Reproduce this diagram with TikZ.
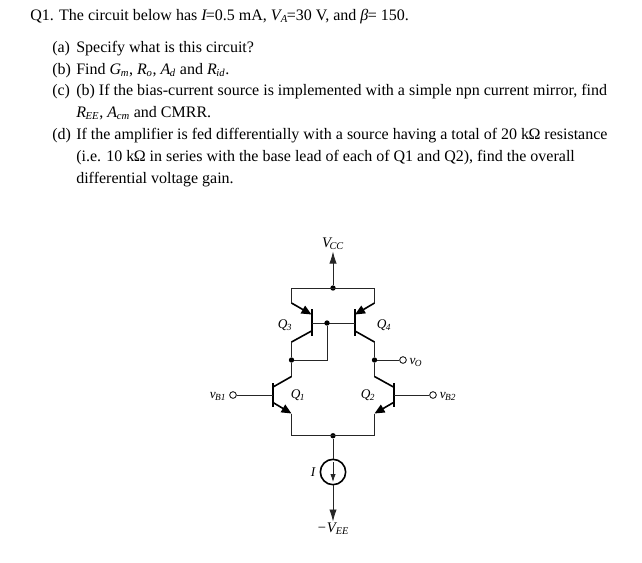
\documentclass[tikz,border=0pt]{standalone}
\usepackage{fontspec}
\setmainfont{Liberation Serif}
\usetikzlibrary{arrows.meta}
\newcommand{\itsub}[2]{\textit{#1}\kern-.3pt\textsubscript{\textit{#2}}}

\begin{document}
\begin{tikzpicture}[x=0.75pt,y=0.75pt,yscale=-1,xscale=1,
	txt/.style={anchor=base west,inner sep=0pt,font=\fontsize{12}{14}\selectfont},
	lab/.style={inner sep=1pt,font=\fontsize{10}{12}\selectfont\itshape},
	wire/.style={line width=0.6pt,black!85},
	bar/.style={line width=1.5pt},
	leg/.style={line width=1.2pt},
	tip/.style={-{Latex[length=9pt,width=5.5pt]}},
	emit/.style={line width=1.2pt,-{Triangle[length=7.5pt,width=6.5pt]}},
	dot/.style={circle,fill=black,inner sep=0pt,minimum size=4pt},
	term/.style={circle,draw,line width=0.6pt,fill=white,inner sep=0pt,minimum size=5pt}]
	\useasboundingbox (0,0) rectangle (642,562);
	\node [txt] (q) at (30,20.5) {Q1. The circuit below has \textit{I}\kern-1pt=0.5 mA, \textit{V}\kern-1pt\textsubscript{\textit{A}}\kern-1pt=30 V, and \textit{β}\kern-.5pt= 150.};
	\node [txt] (a) at (52,52) {(a)};
	\node [txt] (at) at (76,52) {Specify what is this circuit?};
	\node [txt] (b) at (52,74) {(b)};
	\node [txt] (bt) at (76,74) {Find \itsub{G}{m}, \itsub{R}{o}, \itsub{A}{d} and \itsub{R}{id}.};
	\node [txt] (c) at (52,95) {(c)};
	\node [txt] (ct) at (76,95) {(b) If the bias-current source is implemented with a simple npn current mirror, find};
	\node [txt] (ct2) at (76,117) {\itsub{R}{EE}, \itsub{A}{cm} and CMRR.};
	\node [txt] (d) at (52,139) {(d)};
	\node [txt] (dt) at (76,139) {If the amplifier is fed differentially with a source having a total of 20 k\kern-.5ptΩ resistance};
	\node [txt] (dt2) at (76,161) {(i.e. 10 k\kern-.5ptΩ in series with the base lead of each of Q1 and Q2), find the overall};
	\node [txt] (dt3) at (76,183) {differential voltage gain.};

	% rails
	\node [lab,font=\fontsize{11}{13}\selectfont\itshape] (vcc) at (333,244) {V\kern-1pt\textsubscript{CC}};
	\node [dot] (top) at (333,288) {};
	\coordinate (topl) at (291.5,288);
	\coordinate (topr) at (374.5,288);
	\draw [wire,tip] (top) -- (vcc);
	\draw [wire] (topl) -- (topr);

	% Q3 and Q4
	\coordinate (e3a) at (291.5,303);
	\coordinate (e3) at (311.5,314.5);
	\coordinate (c3) at (311.5,331);
	\coordinate (c3a) at (291.5,342);
	\coordinate (b3) at (311.5,323);
	\coordinate (e4a) at (374.5,303);
	\coordinate (e4) at (355,314.5);
	\coordinate (c4) at (355,331);
	\coordinate (c4a) at (374.5,342);
	\coordinate (b4) at (355,323);
	\draw [bar] (311.5,309) -- (311.5,336);
	\draw [bar] (355,309) -- (355,336);
	\draw [wire] (topl) -- (e3a);
	\draw [wire] (topr) -- (e4a);
	\draw [emit] (e3a) -- (e3);
	\draw [emit] (e4a) -- (e4);
	\draw [leg] (c3) -- (c3a);
	\draw [leg] (c4) -- (c4a);
	\draw [wire] (b3) -- (b4);
	\node [dot] (bb) at (327,323) {};
	\node [dot] (j3) at (291.5,360) {};
	\node [dot] (j4) at (374.5,360) {};
	\draw [wire] (bb) |- (j3);
	\draw [wire] (c3a) -- (j3);
	\draw [wire] (c4a) -- (j4);
	\node [term] (vo) at (403,360) {};
	\draw [wire] (j4) -- (vo);

	% Q1 and Q2
	\coordinate (c1a) at (291.5,376.5);
	\coordinate (c1) at (273,387);
	\coordinate (e1) at (291.5,413.5);
	\coordinate (e1b) at (273,402.5);
	\coordinate (b1) at (273,395);
	\coordinate (c2a) at (374.5,376.5);
	\coordinate (c2) at (393.5,387);
	\coordinate (e2) at (374.5,413.5);
	\coordinate (e2b) at (393.5,402.5);
	\coordinate (b2) at (393.5,395);
	\draw [bar] (273,383) -- (273,407);
	\draw [bar] (393.5,383) -- (393.5,407);
	\draw [wire] (j3) -- (c1a);
	\draw [wire] (j4) -- (c2a);
	\draw [leg] (c1a) -- (c1);
	\draw [leg] (c2a) -- (c2);
	\draw [emit] (e1b) -- (e1);
	\draw [emit] (e2b) -- (e2);
	\node [term] (vb1) at (233,395) {};
	\node [term] (vb2) at (433,395) {};
	\draw [wire] (vb1) -- (b1);
	\draw [wire] (b2) -- (vb2);

	% tail and source
	\node [dot] (tail) at (333,435.7) {};
	\coordinate (taill) at (291.5,435.7);
	\coordinate (tailr) at (374.5,435.7);
	\draw [wire] (e1) -- (taill) -- (tailr) -- (e2);
	\node [circle,draw,line width=1.2pt,inner sep=0pt,minimum size=19pt] (src) at (333,472) {};
	\coordinate (srca) at (333,462);
	\coordinate (srcb) at (333,482);
	\draw [wire] (tail) -- (src);
	\draw [wire,-{Latex[length=6pt,width=4pt]}] (srca) -- (srcb);
	\node [lab,font=\fontsize{11}{13}\selectfont] (vee) at (333,529) {\textit{−V}\kern-1pt\textsubscript{\textit{EE}}};
	\draw [wire,tip] (src) -- (vee);

	% labels
	\node [lab] (q3) at (285,325) {Q\kern-.5pt\textsubscript{3}};
	\node [lab] (q4) at (384,325) {Q\kern-.5pt\textsubscript{4}};
	\node [lab] (q1) at (298,395) {Q\kern-.5pt\textsubscript{1}};
	\node [lab] (q2) at (368,395) {Q\kern-.5pt\textsubscript{2}};
	\node [lab] (vol) at (416,362) {v\kern-.5pt\textsubscript{O}};
	\node [lab] (i) at (313,472) {I};
	\node [lab] (vb1l) at (218,396) {v\kern-.5pt\textsubscript{B1}};
	\node [lab] (vb2l) at (448,396) {v\kern-.5pt\textsubscript{B2}};
\end{tikzpicture}
\end{document}
